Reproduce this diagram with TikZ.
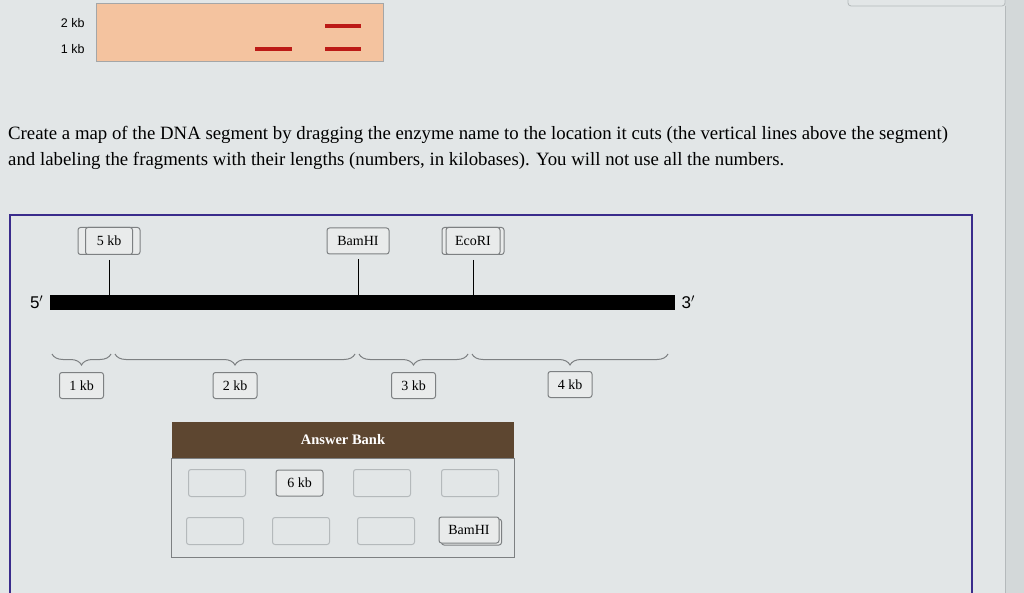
\documentclass[tikz,border=0pt]{standalone}
\usepackage{fontspec}
\setmainfont{Liberation Serif}
\setsansfont{Liberation Sans}
\usetikzlibrary{positioning,decorations.pathreplacing,shadows}

\definecolor{screen}{HTML}{E2E6E7}
\definecolor{screenedge}{HTML}{D3D8D9}
\definecolor{gelfill}{HTML}{F4C39F}
\definecolor{band}{HTML}{BC1A16}
\definecolor{panelline}{HTML}{3A2C8C}
\definecolor{bankbrown}{HTML}{5D4630}
\definecolor{boxline}{HTML}{7D8082}
\definecolor{slotline}{HTML}{B4B9BB}
\definecolor{boxfill}{HTML}{E9EBEB}

\tikzset{
  labelbox/.style={draw=boxline, fill=boxfill, rounded corners=2.5pt, line width=1pt,
    minimum width=44pt, minimum height=26pt, inner xsep=7pt,
    font=\fontsize{14}{16}\selectfont},
  backbox/.style={draw=boxline, fill=boxfill, rounded corners=2.5pt, line width=1pt,
    minimum width=62pt, minimum height=27pt},
  stackbox/.style={labelbox, copy shadow={shadow xshift=2.5pt, shadow yshift=-2pt,
    draw=boxline, fill=boxfill}},
  slot/.style={draw=slotline, rounded corners=2.5pt, line width=1pt,
    minimum width=57pt, minimum height=27pt},
  fragbrace/.style={draw=boxline, line width=1pt,
    decorate, decoration={brace, mirror, amplitude=11pt}},
  gellabel/.style={anchor=east, font=\sffamily\fontsize{12.5}{14}\selectfont},
  endlabel/.style={font=\sffamily\fontsize{17}{19}\selectfont},
  prompt/.style={anchor=base west, inner sep=0, font=\fontsize{18.8}{21}\selectfont}
}

\begin{document}
\begin{tikzpicture}[x=1pt, y=-1pt]
\useasboundingbox (0,0) rectangle (1024,593);
\fill[screen] (0,0) rectangle (1024,593);
\fill[screenedge] (1005,0) rectangle (1024,593);
\draw[slotline, line width=0.8pt] (1005,6) -- (1005,593);
\draw[slotline, line width=0.8pt, fill=screen, rounded corners=3pt] (848,-8) rectangle (1005,6);

%gel
\draw[fill=gelfill, draw=boxline!70] (96,3) rectangle (383,61);
\node[gellabel] (kb2) at (88,23) {2 kb};
\node[gellabel] (kb1) at (88,49) {1 kb};
\draw[band, line width=3.5pt] (255,49) -- (292,49);
\draw[band, line width=3.5pt] (325,26) -- (361,26);
\draw[band, line width=3.5pt] (325,49) -- (361,49);

%instructions
\node[prompt] (line1) at (8,140)
  {Create a map of the DNA segment by dragging the enzyme name to the location it cuts (the vertical lines above the segment)};
\node[prompt] (line2) at (8,166)
  {and labeling the fragments with their lengths (numbers, in kilobases). You will not use all the numbers.};

%panel
\draw[panelline, line width=1.3pt] (10,593) |- (972,215) -- (972,593);

%DNA segment
\node[fill=black, inner sep=0, minimum width=625pt, minimum height=15pt] (dna) at (362.5,302.5) {};
\node[endlabel, left=3pt of dna] (five) {5$'$};
\node[endlabel, right=3pt of dna] (three) {3$'$};

%enzyme / label slots above the cuts
\node[backbox] (back1) at (109,241) {};
\node[labelbox, minimum width=47pt, minimum height=27pt] (cut1) at (back1) {5 kb};
\node[labelbox, minimum width=62pt] (cut2) at (358,241) {BamHI};
\node[backbox] (back3) at (473,241) {};
\node[labelbox, minimum width=54pt, minimum height=27pt] (cut3) at (back3) {EcoRI};
\foreach \c in {1,2,3}
  \draw[line width=1pt, shorten <=5pt] (cut\c) -- (cut\c |- dna.north);

%fragments
\coordinate (b0) at (52,354);
\coordinate (b1) at (111,354);
\coordinate (b2) at (115,354);
\coordinate (b3) at (355,354);
\coordinate (b4) at (359,354);
\coordinate (b5) at (468,354);
\coordinate (b6) at (472,354);
\coordinate (b7) at (668,354);
\draw[fragbrace] (b0) -- (b1) node[labelbox, midway, below=18pt] (frag1) {1 kb};
\draw[fragbrace] (b2) -- (b3) node[labelbox, midway, below=18pt] (frag2) {2 kb};
\draw[fragbrace] (b4) -- (b5) node[labelbox, midway, below=18pt] (frag3) {3 kb};
\draw[fragbrace] (b6) -- (b7) node[labelbox, midway, below=17pt] (frag4) {4 kb};

%answer bank
\node[fill=bankbrown, text=white, minimum width=342pt, minimum height=36pt,
  font=\bfseries\fontsize{14.5}{16}\selectfont] (bankhead) at (343,440) {Answer Bank};
\draw[draw=boxline, line width=1pt] (bankhead.south west) rectangle ([yshift=-99pt]bankhead.south east);
\foreach \x/\y [count=\i] in {217/483, 382/483, 470/483, 215/531, 301/531, 386/531}
  \node[slot] (slot\i) at (\x,\y) {};
\node[labelbox, minimum width=47pt] (bank6) at (299.5,483) {6 kb};
\node[stackbox, minimum width=60pt] (bankbam) at (469,530) {BamHI};
\end{tikzpicture}
\end{document}
